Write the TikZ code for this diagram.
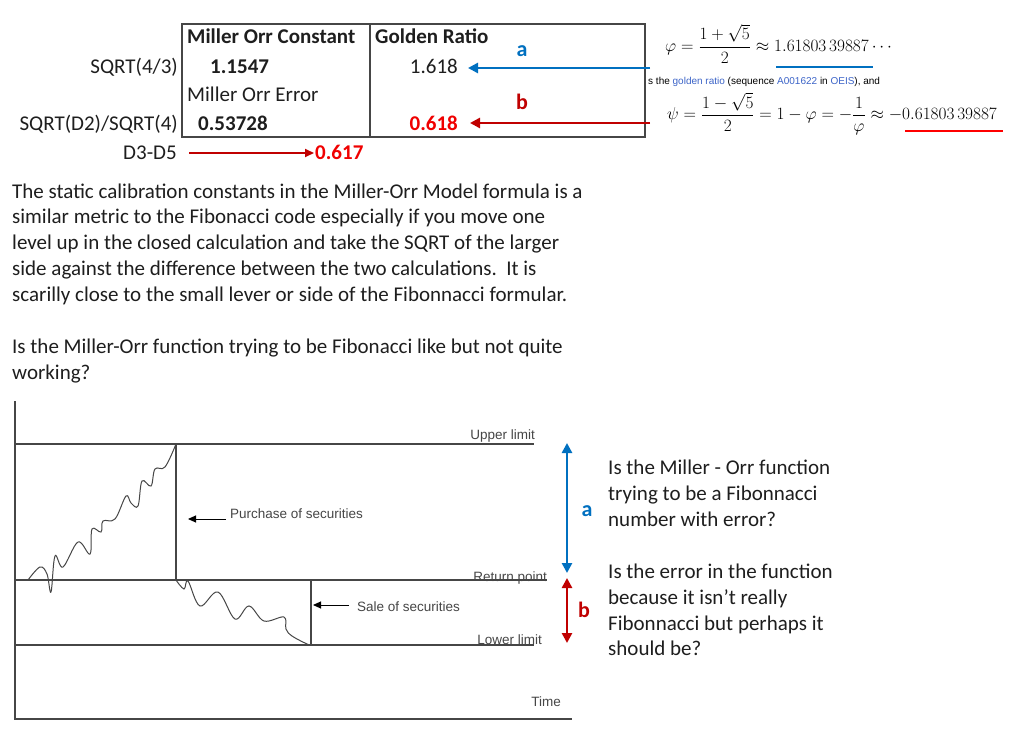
\documentclass[tikz,border=0pt]{standalone}
\usepackage{fontspec}
\setmainfont{Carlito}
\newfontfamily\arialf{Liberation Sans}
\usetikzlibrary{arrows.meta}
\definecolor{blueA}{RGB}{0,112,192}
\definecolor{redB}{RGB}{192,0,0}
\definecolor{redT}{RGB}{240,0,0}
\definecolor{linkB}{RGB}{60,100,200}
\definecolor{axisG}{RGB}{70,70,70}
\definecolor{txtG}{RGB}{30,30,30}
\begin{document}
\begin{tikzpicture}[x=1pt,y=-1pt,
  lbl/.style={inner sep=0pt, text=txtG, font=\fontsize{21}{24}\selectfont},
  blbl/.style={lbl, font=\fontsize{21}{24}\selectfont\bfseries},
  ablbl/.style={inner sep=0pt, anchor=base, font=\fontsize{22}{24}\selectfont\bfseries},
  para/.style={lbl, anchor=base west},
  chart/.style={inner sep=0pt, text=axisG, font=\arialf\fontsize{13.5}{16}\selectfont},
  axis/.style={draw=axisG, line width=1.3pt},
  gline/.style={draw=axisG, line width=1.1pt},
  bigarrow/.style={line width=2.6pt, -{Triangle[length=10pt,width=10pt]}},
  dblarrow/.style={line width=2.6pt, {Triangle[length=10pt,width=10pt]}-{Triangle[length=10pt,width=10pt]}},
  smallarrow/.style={draw=black, line width=1pt, -{Triangle[length=8pt,width=7pt]}},
  frm/.style={inner sep=0pt, anchor=west, font=\fontsize{18}{20}\selectfont}
]
\useasboundingbox[fill=white] (0,0) rectangle (1014,738);

% ---------- table ----------
\draw[draw=axisG, line width=1.1pt] (182,24) rectangle (645,137);
\draw[draw=axisG, line width=1.1pt] (370,24) -- (370,137);

\node[blbl, anchor=base west] (h1) at (187,44) {Miller Orr Constant};
\node[blbl, anchor=base west] (h2) at (375,44) {Golden Ratio};
\node[lbl, anchor=base east] (r1) at (178,74) {SQRT(4/3)};
\node[blbl, anchor=base west] (v1) at (210,74) {1.1547};
\node[lbl, anchor=base east] (g1) at (458,74) {1.618};
\node[lbl, anchor=base west] (h3) at (187,102) {Miller Orr Error};
\node[lbl, anchor=base east] (r2) at (178,131) {SQRT(D2)/SQRT(4)};
\node[blbl, anchor=base west] (v2) at (198,131) {0.53728};
\node[blbl, anchor=base east, text=redT] (g2) at (458,131) {0.618};
\node[lbl, anchor=base east] (r3) at (177,160) {D3-D5};
\node[blbl, anchor=base west, text=redT] (v3) at (315,160) {0.617};
\node[ablbl, text=blueA] (la) at (522,57) {a};
\node[ablbl, text=redB] (lb) at (522,110) {b};

\coordinate (ae) at (650,68);
\coordinate (be) at (650,123);
\draw[bigarrow, blueA] (ae) -- ([xshift=10pt]g1.east |- ae);
\draw[bigarrow, redB] (be) -- ([xshift=12pt]g2.east |- be);
\draw[redB, line width=2pt, -{Triangle[length=9pt,width=8pt]}] ([xshift=12pt]r3.east |- 0,153) -- ([xshift=-1pt]v3.west |- 0,153);

% ---------- formulas ----------
\node[frm] (phi) at (665,44) {$\displaystyle \varphi=\frac{1+\sqrt{5}}{2}\approx 1.61803\,39887\cdots$};
\node[inner sep=0pt, anchor=west, font=\arialf\fontsize{10}{11}\selectfont] (note) at (648,81.5) {s the \textcolor{linkB}{golden ratio} (sequence \textcolor{linkB}{A001622} in \textcolor{linkB}{OEIS}), and};
\node[frm] (psi) at (667,114) {$\displaystyle \psi=\frac{1-\sqrt{5}}{2}=1-\varphi=-\frac{1}{\varphi}\approx -0.61803\,39887$};
\coordinate (u1a) at (776,67); \coordinate (u1b) at (873,67);
\coordinate (u2a) at (905,131); \coordinate (u2b) at (1003,131);
\draw[blueA, line width=2.6pt] (u1a) -- (u1b);
\draw[red, line width=2.6pt] (u2a) -- (u2b);

% ---------- paragraph ----------
\node[para] (p1) at (12,198) {The static calibration constants in the Miller-Orr Model formula is a};
\node[para] (p2) at (12,223) {similar metric to the Fibonacci code especially if you move one};
\node[para] (p3) at (12,249) {level up in the closed calculation and take the SQRT of the larger};
\node[para] (p4) at (12,275) {side against the difference between the two calculations.\ \ It is};
\node[para] (p5) at (12,301) {scarilly close to the small lever or side of the Fibonnacci formular.};
\node[para] (p6) at (12,353) {Is the Miller-Orr function trying to be Fibonacci like but not quite};
\node[para] (p7) at (12,379) {working?};

% ---------- chart ----------
\coordinate (o) at (15,719);
\coordinate (ytop) at (15,401);
\coordinate (xend) at (572,719);
\draw[axis] (ytop) -- (o) -- (xend);
\coordinate (ul0) at (15,444); \coordinate (ul1) at (534,444);
\coordinate (rp0) at (15,580); \coordinate (rp1) at (547,580);
\coordinate (ll0) at (15,645); \coordinate (ll1) at (534,645);
\draw[gline] (ul0) -- (ul1);
\draw[gline] (rp0) -- (rp1);
\draw[gline] (ll0) -- (ll1);
\coordinate (pv0) at (176,444); \coordinate (pv1) at (176,580);
\coordinate (sv0) at (311,580); \coordinate (sv1) at (311,645);
\draw[gline] (pv0) -- (pv1);
\draw[gline] (sv0) -- (sv1);

\draw[axisG, line width=1pt] plot[smooth, tension=0.6] coordinates {
 (28,580) (40,567) (47,574) (51,592) (55,556) (63,567) (78,542) (90,554) (92,529)
 (101,532) (103,521) (115,519) (126,496) (131,503) (138,506) (142,481) (151,486)
 (155,469) (165,467) (176,444)};
\draw[axisG, line width=1pt] plot[smooth, tension=0.6] coordinates {
 (176,580) (184,589) (188,581) (200,606) (218,592) (235,619) (249,606) (264,621)
 (284,617) (286,629) (292,636) (307,644) (311,645)};

\node[chart, anchor=base east] (tul) at (535,439) {Upper limit};
\node[chart, anchor=base east] (trp) at (547,581) {Return point};
\node[chart, anchor=base east] (tll) at (542,644) {Lower limit};
\node[chart, anchor=base east] (ttm) at (561,706) {Time};
\node[chart, anchor=base west] (tpu) at (230,518) {Purchase of securities};
\node[chart, anchor=base west] (tsa) at (357,611) {Sale of securities};
\draw[smallarrow] ([xshift=-4pt]tpu.west |- 0,519) -- (188,519);
\draw[smallarrow] ([xshift=-8pt]tsa.west |- 0,605) -- (313,605);

% ---------- a / b arrows ----------
\coordinate (aa0) at (567,443); \coordinate (aa1) at (567,573);
\coordinate (bb0) at (567,578); \coordinate (bb1) at (567,643);
\draw[dblarrow, blueA] (aa0) -- (aa1);
\draw[dblarrow, redB] (bb0) -- (bb1);
\node[ablbl, text=blueA] (ra) at (587,516) {a};
\node[ablbl, text=redB] (rb) at (584,617) {b};

\node[para] (q1) at (608,474) {Is the Miller - Orr function};
\node[para] (q2) at (608,500) {trying to be a Fibonnacci};
\node[para] (q3) at (608,526) {number with error?};
\node[para] (q4) at (608,578) {Is the error in the function};
\node[para] (q5) at (608,604) {because it isn\char"0027 t really};
\node[para] (q6) at (608,630) {Fibonnacci but perhaps it};
\node[para] (q7) at (608,655) {should be?};
\end{tikzpicture}
\end{document}
